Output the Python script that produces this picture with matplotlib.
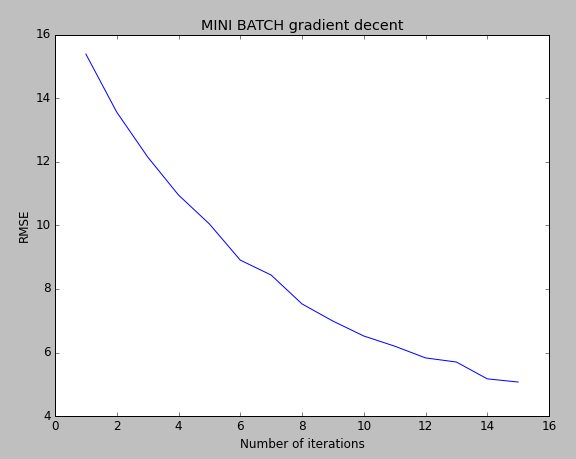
import matplotlib
matplotlib.use("Agg")
import matplotlib.pyplot as plt

iterations = list(range(1, 16))
rmse = [15.40, 13.57, 12.16, 10.96, 10.05, 8.91, 8.44, 7.53, 6.99, 6.52, 6.20, 5.83, 5.70, 5.17, 5.07]

plt.style.use("classic")
fig = plt.figure(figsize=(8, 6.375), dpi=72, facecolor="0.75")
ax = fig.add_axes([55/576, 1-416/459, (549-55)/576, (416-35)/459])
ax.plot(iterations, rmse, color="blue")
ax.set_xlim(0, 16)
ax.set_ylim(4, 16)
ax.set_title("MINI BATCH gradient decent")
ax.set_xlabel("Number of iterations")
ax.set_ylabel("RMSE")
fig.savefig("out.png", dpi=72, facecolor="0.75")
